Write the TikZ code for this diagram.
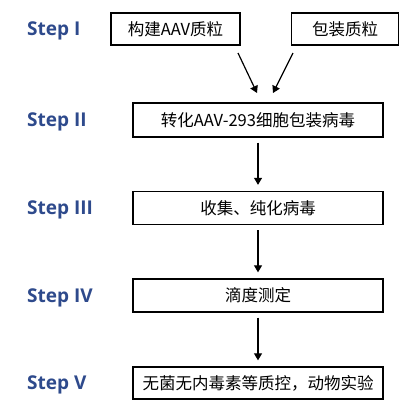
\documentclass[tikz,border=0pt]{standalone}
\usepackage{fontspec}
\setmainfont{Open Sans}
\newfontfamily\cjk{Noto Sans CJK SC}
\usetikzlibrary{arrows.meta}
\definecolor{step-blue}{HTML}{2E4A8C}

\begin{document}
\begin{tikzpicture}[x=1pt, y=-1pt,
    steplabel/.style={anchor=base west, text=step-blue, font=\fontsize{19}{19}\selectfont\bfseries, inner sep=0pt},
    stage/.style={draw, line width=1.4pt, font=\cjk\fontsize{16.5}{17}\selectfont, inner sep=0pt, minimum height=33pt},
    flow/.style={line width=1.2pt, -{Triangle[length=7pt, width=8pt]}}]
    \useasboundingbox[fill=white] (0, 0) rectangle (409, 408);
    % step names
    \node[steplabel] (stepi) at (27, 35) {Step I};
    \node[steplabel] (stepii) at (27, 126) {Step II};
    \node[steplabel] (stepiii) at (27, 214) {Step III};
    \node[steplabel] (stepiv) at (27, 302) {Step IV};
    \node[steplabel] (stepv) at (27, 389) {Step V};
    % boxes
    \node[stage, minimum width=129pt, minimum height=32pt] (construct) at (175.5, 29) {构建AAV质粒};
    \node[stage, minimum width=107pt, minimum height=32pt] (packaging) at (345, 29) {包装质粒};
    \node[stage, minimum width=250pt, minimum height=34pt] (transfect) at (258, 120) {转化AAV-293细胞包装病毒};
    \node[stage, minimum width=250pt] (harvest) at (258, 208) {收集、纯化病毒};
    \node[stage, minimum width=250pt] (titer) at (258, 295.5) {滴度测定};
    \node[stage, minimum width=250pt, minimum height=32pt] (qc) at (258, 383) {无菌无内毒素等质控，动物实验};
    % arrows
    \coordinate (constr-out) at (238, 53);
    \coordinate (constr-in) at (257, 93);
    \coordinate (pack-out) at (293, 53);
    \coordinate (pack-in) at (273, 93);
    \draw[flow] (constr-out) -- (constr-in);
    \draw[flow] (pack-out) -- (pack-in);
    \draw[flow, shorten <=5pt, shorten >=6pt] (transfect) -- (harvest);
    \draw[flow, shorten <=5pt, shorten >=6pt] (harvest) -- (titer);
    \draw[flow, shorten <=5pt, shorten >=6pt] (titer) -- (qc);
\end{tikzpicture}
\end{document}
